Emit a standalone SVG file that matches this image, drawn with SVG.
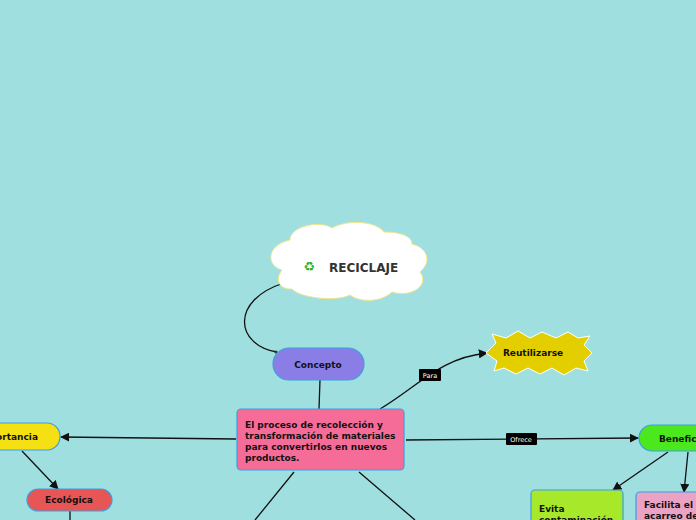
<svg xmlns="http://www.w3.org/2000/svg" width="696" height="520" viewBox="0 0 696 520">
<defs>
<marker id="ar" viewBox="0 0 10 10" refX="9" refY="5" markerWidth="7" markerHeight="7" orient="auto"><path d="M0,0 L10,5 L0,10 z" fill="#111"/></marker>
<style>
text{font-family:"DejaVu Sans",sans-serif;font-weight:bold;font-size:9px;fill:#111}
.c{fill:none;stroke:#111;stroke-width:1.3}
.lb rect{fill:#000}
.lb text{fill:#fff;font-size:6.5px;font-weight:normal;text-anchor:middle}
.n{stroke:#3aa0e0;stroke-width:1.2}
</style>
</defs>
<rect width="696" height="520" fill="#a0dfe0"/>
<g id="connectors">
<path class="c" d="M284,283 C230,300 235,345 277,352"/>
<circle cx="284" cy="283" r="1.6" fill="#333"/><circle cx="276" cy="352" r="1.6" fill="#333"/>
<path class="c" d="M320,380 L319,409"/>
<path class="c" d="M380,409 C420,385 440,358 487,353" marker-end="url(#ar)"/>
<path class="c" d="M236,439 L61,437" marker-end="url(#ar)"/>
<path class="c" d="M22,451 L58,489" marker-end="url(#ar)"/>
<path class="c" d="M406,440 L638,438" marker-end="url(#ar)"/>
<path class="c" d="M668,452 L613,490" marker-end="url(#ar)"/>
<path class="c" d="M688,452 L684,492" marker-end="url(#ar)"/>
<path class="c" d="M294,472 L255,520 M359,472 L415,520 M70,511 L70,520"/>
<g class="lb"><rect x="419" y="369" width="22" height="12" rx="1"/><text x="430" y="378">Para</text></g>
<g class="lb"><rect x="506" y="433" width="31" height="12" rx="1"/><text x="521" y="442">Ofrece</text></g>
</g>
<g id="reciclaje">
<path d="M290,240 C290,226 320,220 332,228 C345,220 375,220 384,232 C400,232 412,236 412,244 C428,248 432,262 420,272 C430,285 412,298 392,292 C382,302 360,303 350,295 C336,302 300,298 292,289 C280,290 274,280 282,270 C266,266 266,245 290,240 Z" fill="#fff" stroke="#f0e68c" stroke-width="1"/>
<text x="309" y="271" style="font-size:13px;fill:#2ab02a;text-anchor:middle;font-weight:normal">♻</text>
<text x="329" y="272" style="font-size:12px;fill:#333">RECICLAJE</text>
</g>
<g id="concepto"><rect class="n" x="273" y="348" width="91" height="32" rx="16" fill="#8a7ee6"/><text x="318" y="368" text-anchor="middle">Concepto</text></g>
<g id="central"><rect class="n" x="237" y="409" width="167" height="61" rx="4" fill="#f56c98"/>
<text x="245" y="428">El proceso de recolección y</text><text x="245" y="439">transformación de materiales</text><text x="245" y="450">para convertirlos en nuevos</text><text x="245" y="461">productos.</text></g>
<g id="reutilizarse"><polygon points="486,353 496,343 492,334 506,338 518,331 530,338 542,332 556,338 568,332 578,338 590,336 584,345 592,353 584,361 588,371 576,368 564,375 552,368 540,374 528,368 516,374 504,368 494,371 497,361" fill="#e3cf00" stroke="#fff" stroke-width="1"/><text x="533" y="356" text-anchor="middle">Reutilizarse</text></g>
<g id="importancia"><rect class="n" x="-45" y="423" width="105" height="27" rx="13" fill="#f5e013"/><text x="38" y="440" text-anchor="end">Importancia</text></g>
<g id="ecologica"><rect class="n" x="27" y="489" width="85" height="22" rx="11" fill="#e85555"/><text x="69" y="503" text-anchor="middle">Ecológica</text></g>
<g id="beneficios"><rect class="n" x="639" y="425" width="100" height="26" rx="13" fill="#4ae81c"/><text x="659" y="442">Beneficios</text></g>
<g id="evita"><rect class="n" x="531" y="490" width="92" height="45" rx="4" fill="#a8e82a"/><text x="539" y="512">Evita</text><text x="539" y="523">contaminación</text></g>
<g id="facilita"><rect class="n" x="636" y="492" width="72" height="45" rx="4" fill="#eaa3c4"/><text x="644" y="508">Facilita el</text><text x="644" y="519">acarreo de</text></g>
</svg>
